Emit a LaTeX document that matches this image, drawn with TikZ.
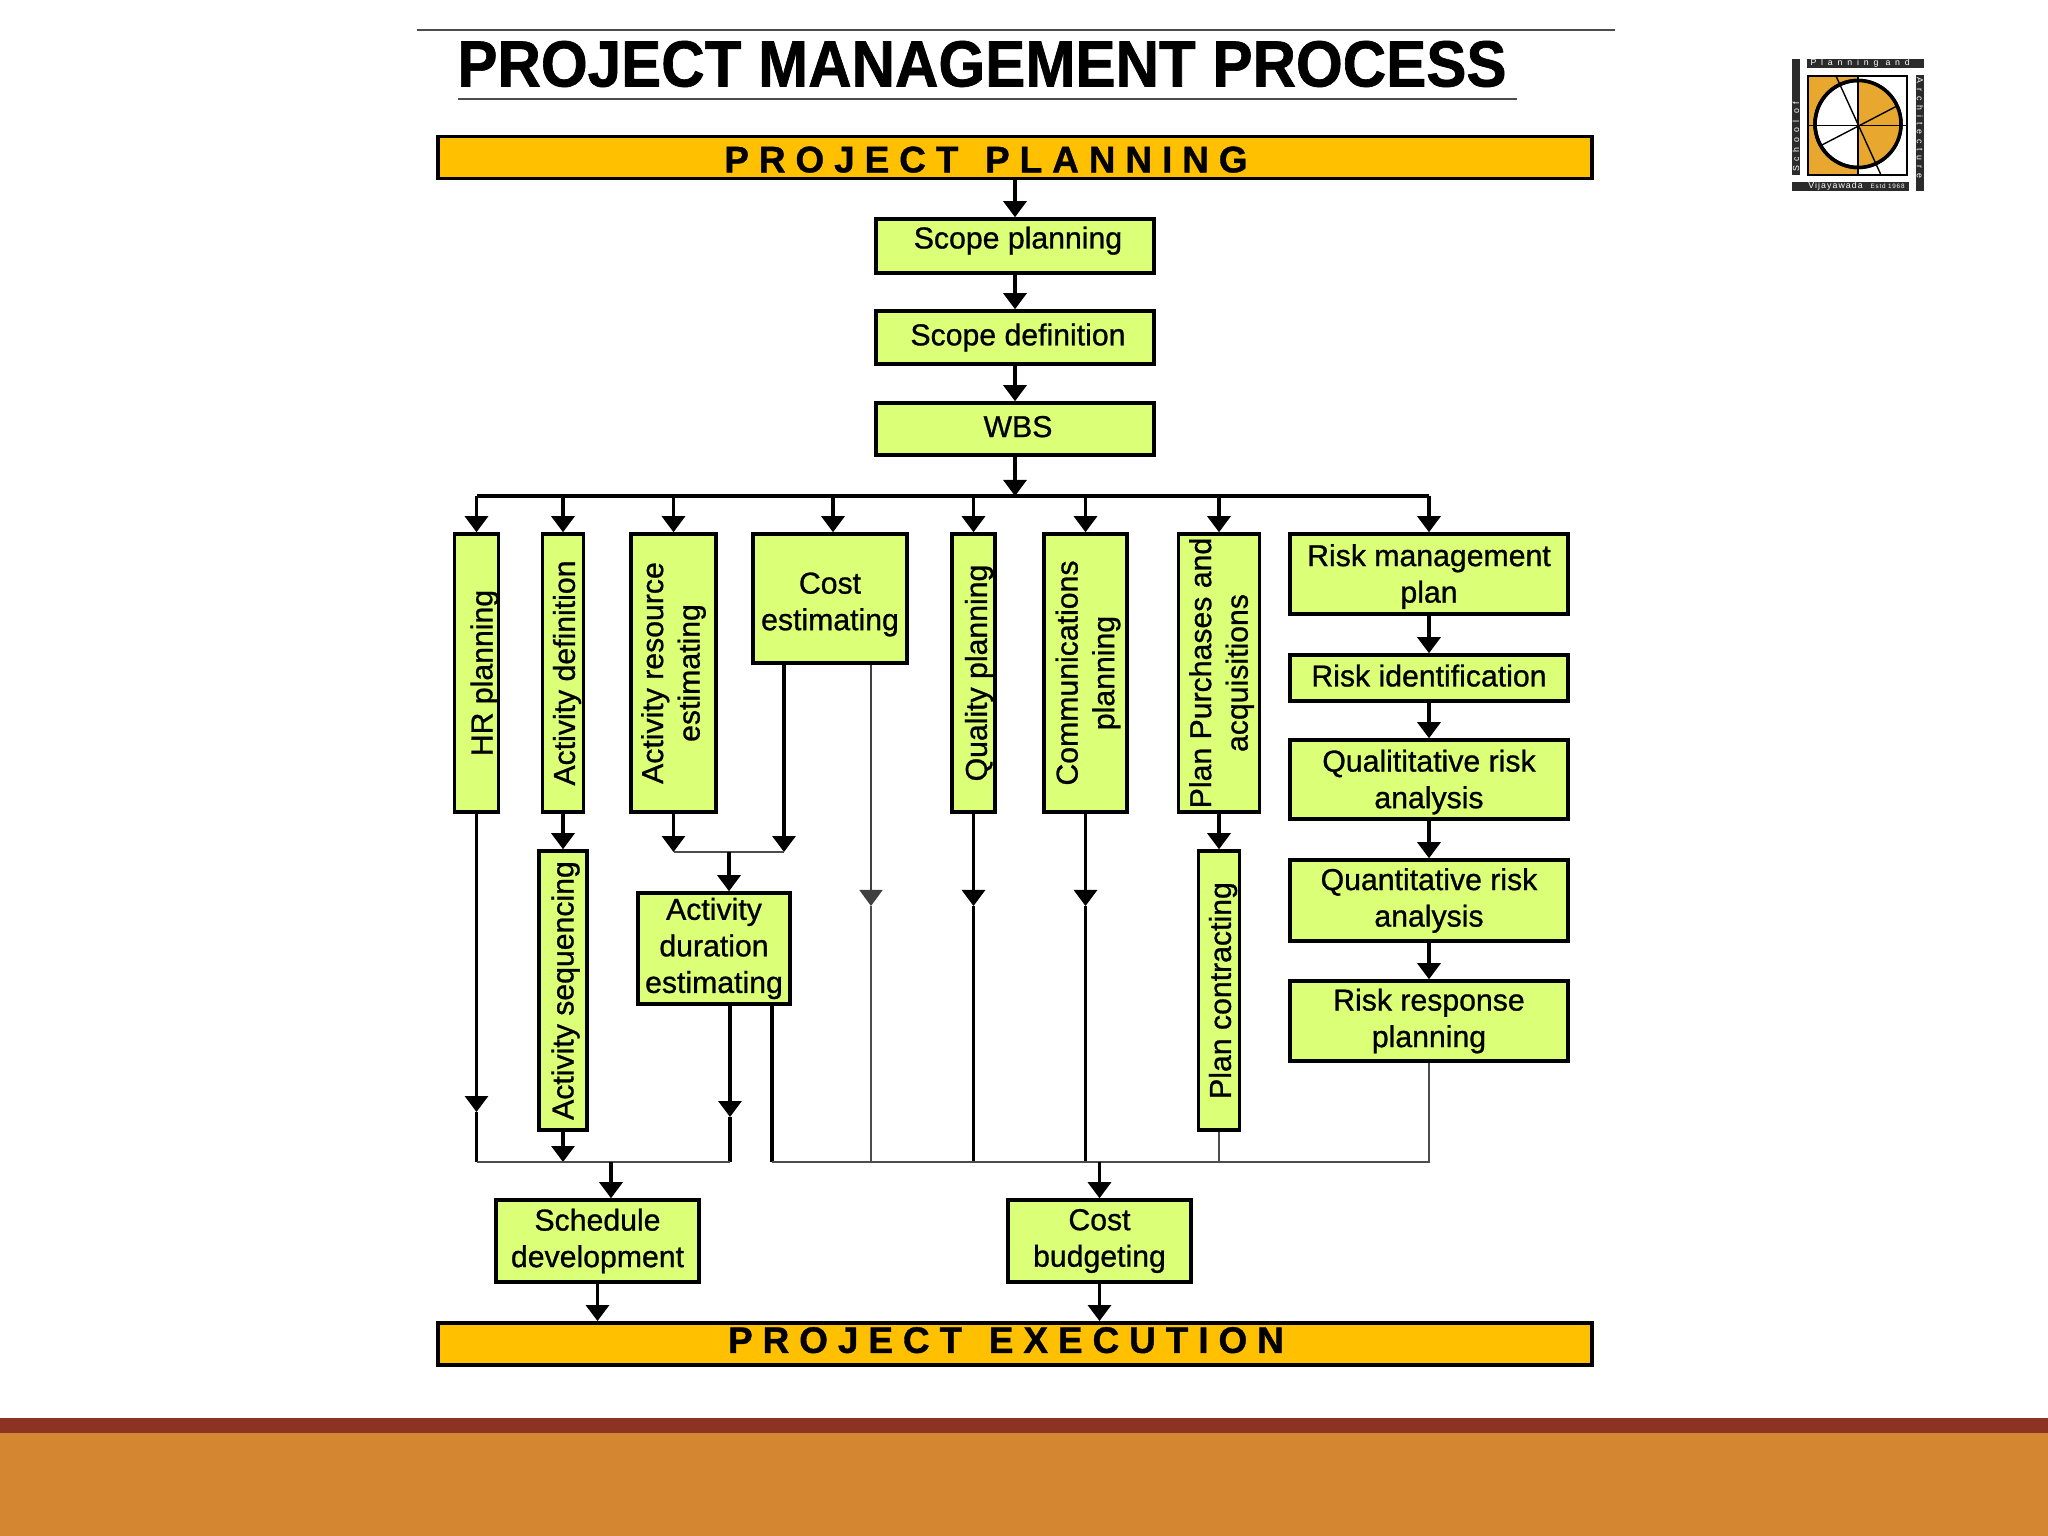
\documentclass[tikz,border=0pt]{standalone}
\usepackage{fontspec}
\usetikzlibrary{arrows.meta}
\setmainfont[FakeBold=0.9]{Liberation Sans}
\newfontfamily\titlefont[FakeStretch=.92,FakeBold=1]{Liberation Sans}
\newfontfamily\barfont[LetterSpace=27,FakeBold=1]{Liberation Sans}
\newfontfamily\crestfont[LetterSpace=55]{Liberation Sans}
\newfontfamily\crestplain[LetterSpace=12]{Liberation Sans}
\newcommand{\lowertext}[1]{\rule{0pt}{#1}}
\newcommand{\raisetext}[1]{\rule[-#1]{0pt}{0pt}}
\definecolor{boxgreen}{HTML}{DCFF78}
\definecolor{baramber}{HTML}{FFC000}
\definecolor{bandred}{HTML}{8C3324}
\definecolor{bandorange}{HTML}{D58630}
\definecolor{crestorange}{HTML}{E8A72E}
\definecolor{crestdark}{HTML}{2B2B2B}
\tikzset{
    stepbox/.style={shape=rectangle,draw=black,line width=1pt,fill=boxgreen,align=center,inner sep=0pt,
        font=\fontsize{8.6}{10.4}\selectfont},
    upbox/.style={stepbox,rotate=90,minimum width=2.78cm},
    phasebar/.style={shape=rectangle,draw=black,line width=1.1pt,fill=baramber,minimum width=11.54cm,inner sep=0pt,
        font=\fontsize{10.5}{12}\barfont\bfseries},
    flow/.style={-{Triangle[width=.23cm,length=.16cm]},draw=black,line width=.9pt},
    thinflow/.style={-{Triangle[width=.23cm,length=.16cm]},draw=black!75,line width=.5pt},
    wire/.style={draw=black,line width=.9pt},
    thinwire/.style={draw=black!70,line width=.5pt},
    crestbar/.style={fill=crestdark,draw=none,text=white,inner sep=0pt},
    crestword/.style={crestbar,text width=1.1cm,align=left,font=\fontsize{2.5}{3}\crestfont},
}
\begin{document}
\begin{tikzpicture}
    \useasboundingbox (0,0) rectangle (20.48,-15.36);

    % footer band
    \fill[bandorange] (0,-14.33) rectangle (20.48,-15.36);
    \fill[bandred] (0,-14.18) rectangle (20.48,-14.33);

    % heading
    \draw[black!70,line width=.4pt] (4.17,-.30) -- (16.15,-.30);
    \node[font=\fontsize{18.6}{22}\titlefont\bfseries] (title) at (9.82,-.64) {PROJECT MANAGEMENT PROCESS};
    \draw[black!70,line width=.8pt] (4.58,-.99) -- (15.17,-.99);

    % crest
    \fill[crestorange] (18.08,-.76) rectangle (18.58,-1.75);
    \draw[black,line width=1pt,fill=white] (18.58,-1.24) ellipse (.43 and .435);
    \fill[crestorange] (18.58,-.805) arc (90:-90:.43 and .435) -- cycle;
    \draw[black,line width=1pt] (18.58,-1.24) ellipse (.43 and .435);
    \draw[black,line width=.6pt] (18.08,-.76) rectangle (19.07,-1.75);
    \draw[black,line width=.4pt] (18.58,-.76) -- (18.58,-1.75);
    \draw[black,line width=.4pt] (18.08,-1.257) -- (19.07,-1.257);
    \draw[black,line width=.4pt] (18.36,-.76) -- (18.81,-1.75);
    \draw[black,line width=.4pt] (18.20,-1.46) -- (18.97,-1.06);
    \node[crestword,minimum width=1.17cm,minimum height=.09cm] (cresttop) at (18.655,-.635) {Planning\hspace{.07cm}and};
    \node[crestword,rotate=90,minimum width=1.16cm,minimum height=.08cm] (crestleft) at (17.96,-1.17) {School\hspace{.07cm}of};
    \node[crestword,rotate=-90,minimum width=1.16cm,minimum height=.08cm] (crestright) at (19.20,-1.33) {Architecture};
    \node[crestbar,minimum width=1.17cm,minimum height=.09cm,font=\fontsize{2.5}{3}\crestplain] (crestbot) at (18.505,-1.865) {\hspace*{.12cm}Vijayawada\hspace{.08cm}\fontsize{1.8}{3}\selectfont Estd 1968};

    % phases
    \node[phasebar,minimum height=.42cm] (plan) at (10.15,-1.575) {\lowertext{.30cm}PROJECT\hspace{.065cm} PLANNING\hspace*{.58cm}};
    \node[phasebar,minimum height=.42cm] (exec) at (10.15,-13.44) {\raisetext{.08cm}PROJECT\hspace{.065cm} EXECUTION\hspace*{.18cm}};

    % scope steps
    \node[stepbox,minimum width=2.78cm,minimum height=.54cm] (scope) at (10.15,-2.46) {\raisetext{.17cm}\hspace*{.06cm}Scope planning};
    \node[stepbox,minimum width=2.78cm,minimum height=.53cm] (define) at (10.15,-3.375) {\hspace*{.06cm}Scope definition};
    \node[stepbox,minimum width=2.78cm,minimum height=.52cm] (wbs) at (10.15,-4.29) {\raisetext{.05cm}\hspace*{.06cm}WBS};

    % row under the WBS
    \node[upbox,minimum height=.41cm] (hr) at (4.765,-6.73) {\lowertext{.38cm}HR planning};
    \node[upbox,minimum height=.41cm] (actdef) at (5.63,-6.73) {\lowertext{.30cm}Activity definition};
    \node[upbox,minimum height=.85cm] (actres) at (6.735,-6.73) {Activity resource\\estimating};
    \node[stepbox,minimum width=1.54cm,minimum height=1.29cm] (cost) at (8.30,-5.985) {\lowertext{.33cm}Cost\\estimating};
    \node[upbox,minimum height=.43cm] (quality) at (9.735,-6.73) {\lowertext{.33cm}Quality planning};
    \node[upbox,minimum height=.83cm] (comm) at (10.855,-6.73) {\lowertext{.27cm}Communications\\planning};
    \node[upbox,minimum height=.81cm] (purch) at (12.19,-6.73) {\lowertext{.27cm}Plan Purchases and\\acquisitions};

    % risk steps
    \node[stepbox,minimum width=2.78cm,minimum height=.80cm] (riskplan) at (14.29,-5.74) {\lowertext{.27cm}Risk management\\plan};
    \node[stepbox,minimum width=2.78cm,minimum height=.46cm] (riskid) at (14.29,-6.78) {\raisetext{.05cm}Risk identification};
    \node[stepbox,minimum width=2.78cm,minimum height=.79cm] (riskqual) at (14.29,-7.795) {\lowertext{.27cm}Qualititative risk\\analysis};
    \node[stepbox,minimum width=2.78cm,minimum height=.81cm] (riskquan) at (14.29,-9.005) {Quantitative risk\\analysis};
    \node[stepbox,minimum width=2.78cm,minimum height=.80cm] (riskresp) at (14.29,-10.21) {Risk response\\planning};

    % second row
    \node[upbox,minimum width=2.79cm,minimum height=.48cm] (actseq) at (5.63,-9.905) {\lowertext{.27cm}Activity sequencing};
    \node[upbox,minimum width=2.79cm,minimum height=.41cm] (contract) at (12.19,-9.905) {\lowertext{.30cm}Plan contracting};
    \node[stepbox,minimum width=1.52cm,minimum height=1.11cm] (duration) at (7.14,-9.485) {Activity\\duration\\estimating};
    \node[stepbox,minimum width=2.03cm,minimum height=.82cm] (sched) at (5.975,-12.41) {Schedule\\development};
    \node[stepbox,minimum width=1.83cm,minimum height=.82cm] (budget) at (10.995,-12.41) {Cost\\budgeting};

    \coordinate (bus) at (10.15,-4.96);
    \coordinate (costdrop) at (8.33,-4.96);
    \coordinate (estmid) at (7.29,-8.52);
    \coordinate (estright) at (7.84,-8.52);
    \coordinate (costmid) at (8.71,-9.06);
    \coordinate (hrmid) at (4.765,-11.12);
    \coordinate (durleft) at (7.30,-11.17);
    \coordinate (durright) at (7.72,-11.62);
    \coordinate (qualmid) at (9.735,-9.06);
    \coordinate (commmid) at (10.855,-9.06);
    \coordinate (schedbus) at (6.11,-11.62);
    \coordinate (budgetbus) at (10.995,-11.62);

    \path [flow] (plan) edge (scope); \path [flow] (scope) edge (define); \path
    [flow] (define) edge (wbs); \path [flow] (wbs) edge (bus);
    \draw[wire] (hr.east |- bus) -- (riskplan.north |- bus);
    \draw[flow] (hr.east |- bus) -- (hr.east);
    \draw[flow] (actdef.east |- bus) -- (actdef.east);
    \draw[flow] (actres.east |- bus) -- (actres.east);
    \draw[flow] (costdrop) -- (costdrop |- cost.north);
    \draw[flow] (quality.east |- bus) -- (quality.east);
    \draw[flow] (comm.east |- bus) -- (comm.east);
    \draw[flow] (purch.east |- bus) -- (purch.east);
    \draw[flow] (riskplan.north |- bus) -- (riskplan.north);

    \path [flow] (riskplan) edge (riskid); \path [flow] (riskid) edge (riskqual);
    \path [flow] (riskqual) edge (riskquan); \path [flow] (riskquan) edge (riskresp);
    \path [flow] (actdef) edge (actseq); \path [flow] (purch) edge (contract);

    % estimating bracket
    \draw[flow] (actres.west) -- (actres.west |- estmid);
    \draw[flow] (cost.south -| estright) -- (estright);
    \draw[thinwire] (actres.west |- estmid) -- (estright);
    \draw[flow] (estmid) -- (duration.north -| estmid);

    % lines into the collectors
    \draw[flow] (hr.west) -- (hrmid);
    \draw[flow] (duration.south -| durleft) -- (durleft);
    \draw[flow] (actseq.west) -- (actseq.west |- schedbus);
    \draw[thinflow] (cost.south -| costmid) -- (costmid);
    \draw[flow] (quality.west) -- (qualmid);
    \draw[flow] (comm.west) -- (commmid);

    \draw[wire] (hrmid) -- (hr.west |- schedbus);
    \draw[wire] (durleft) -- (durleft |- schedbus);
    \draw[thinwire] (hr.west |- schedbus) -- (durleft |- schedbus);
    \draw[wire] (duration.south -| durright) -- (durright);
    \draw[thinwire] (costmid) -- (costmid |- budgetbus);
    \draw[wire] (qualmid) -- (qualmid |- budgetbus);
    \draw[wire] (commmid) -- (commmid |- budgetbus);
    \draw[thinwire] (contract.west) -- (contract.west |- budgetbus);
    \draw[thinwire] (riskresp.south) -- (riskresp.south |- budgetbus) -- (durright);

    % last steps
    \draw[flow] (schedbus) -- (sched.north -| schedbus);
    \draw[flow] (budgetbus) -- (budget.north);
    \draw[flow] (sched.south) -- (sched.south |- exec.north);
    \draw[flow] (budget.south) -- (budget.south |- exec.north);
\end{tikzpicture}
\end{document}
